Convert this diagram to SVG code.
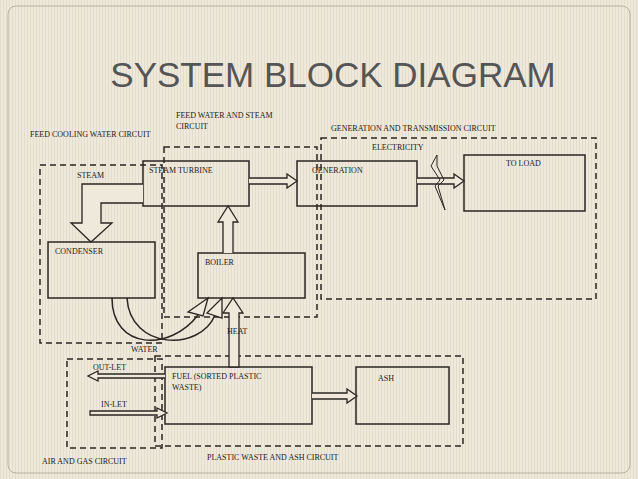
<svg xmlns="http://www.w3.org/2000/svg" width="638" height="479" viewBox="0 0 638 479">
<defs>
<pattern id="st" width="3" height="10" patternUnits="userSpaceOnUse"><rect width="3" height="10" fill="#efe9dc"/><rect width="1" height="10" fill="#e2dccd"/></pattern>
<style>
.b{fill:none;stroke:#2a2622;stroke-width:1.5}
.d{fill:none;stroke:#2a2622;stroke-width:1.5;stroke-dasharray:6,4}
.h{fill:#efe9dc;stroke:#2a2622;stroke-width:1.3}
text{font-family:"Liberation Serif",serif;font-size:8px;fill:#1e1b18}
</style>
</defs>
<rect width="638" height="479" fill="url(#st)"/>
<rect x="8" y="6" width="622" height="467" rx="8" fill="none" stroke="#b8b0a0" stroke-width="1"/>
<text x="333" y="87" text-anchor="middle" style="font-family:'Liberation Sans',sans-serif;font-size:35px;fill:#555">SYSTEM BLOCK DIAGRAM</text>
<g id="circuits">
<rect class="d" x="40" y="165" width="122" height="178"/>
<rect class="d" x="164" y="147" width="153" height="170"/>
<rect class="d" x="321" y="138" width="275" height="161"/>
<rect class="d" x="155" y="356" width="308" height="90"/>
<rect class="d" x="67" y="359" width="95" height="89"/>
</g>
<g id="turbine"><rect class="b" x="143" y="161" width="106" height="45"/><text x="149" y="173">STEAM TURBINE</text></g>
<g id="condenser"><rect class="b" x="48" y="242" width="107" height="56"/><text x="55" y="254">CONDENSER</text></g>
<g id="boiler"><rect class="b" x="198" y="253" width="107" height="45"/><text x="205" y="265">BOILER</text></g>
<g id="generation"><rect class="b" x="297" y="161" width="120" height="45"/><text x="312" y="173">GENERATION</text></g>
<g id="load"><rect class="b" x="464" y="155" width="121" height="56"/><text x="506" y="166">TO LOAD</text></g>
<g id="fuel"><rect class="b" x="165" y="367" width="147" height="57"/><text x="172" y="379">FUEL (SORTED PLASTIC</text><text x="172" y="390">WASTE)</text></g>
<g id="ash"><rect class="b" x="356" y="367" width="93" height="57"/><text x="378" y="381">ASH</text></g>
<g id="connectors">
<path class="h" d="M143,184 H82 V223 H71 L91,242 L112,223 H101 V203 H143"/>
<path class="h" d="M223,253 V222 H218 L228,206 L238,222 H233 V253"/>
<path class="h" d="M229,367 V313 H223 L233,298 L243,313 H239 V367 Z"/>
<path class="h" d="M249,178 H287 V174 L297,181 L287,188 V184 H249"/>
<path class="h" d="M417,178 H454 V174 L464,181 L454,188 V184 H417"/>
<path class="h" d="M312,393 H347 V389 L357,396 L347,403 V399 H312"/>
<path class="h" d="M165,374 H98 V371 L88,376 L98,381 V378 H165"/>
<path class="h" d="M90,411 H157 V408 L167,413 L157,418 V415 H90 Z"/>
<path class="b" d="M437,155 L431,166 L440,180 L435,186 L445,210 L438,186 L444,180 L437,166 Z" style="stroke-width:1"/>
<path class="b" d="M112,298 C112,350 170,352 198,315"/>
<path class="b" d="M127,298 C130,350 200,352 215,315"/>
<path class="h" d="M188,312 L208,298 L203,316 Z"/>
<path class="h" d="M207,313 L222,298 L222,318 Z"/>
</g>
<g id="labels">
<text x="176" y="118">FEED WATER AND STEAM</text>
<text x="176" y="129">CIRCUIT</text>
<text x="30" y="137">FEED COOLING WATER CIRCUIT</text>
<text x="331" y="131">GENERATION AND TRANSMISSION CIRCUIT</text>
<text x="372" y="150">ELECTRICITY</text>
<text x="77" y="178">STEAM</text>
<text x="227" y="334">HEAT</text>
<text x="131" y="352">WATER</text>
<text x="93" y="370">OUT-LET</text>
<text x="101" y="407">IN-LET</text>
<text x="42" y="464">AIR AND GAS CIRCUIT</text>
<text x="207" y="460">PLASTIC WASTE AND ASH CIRCUIT</text>
</g>
</svg>
